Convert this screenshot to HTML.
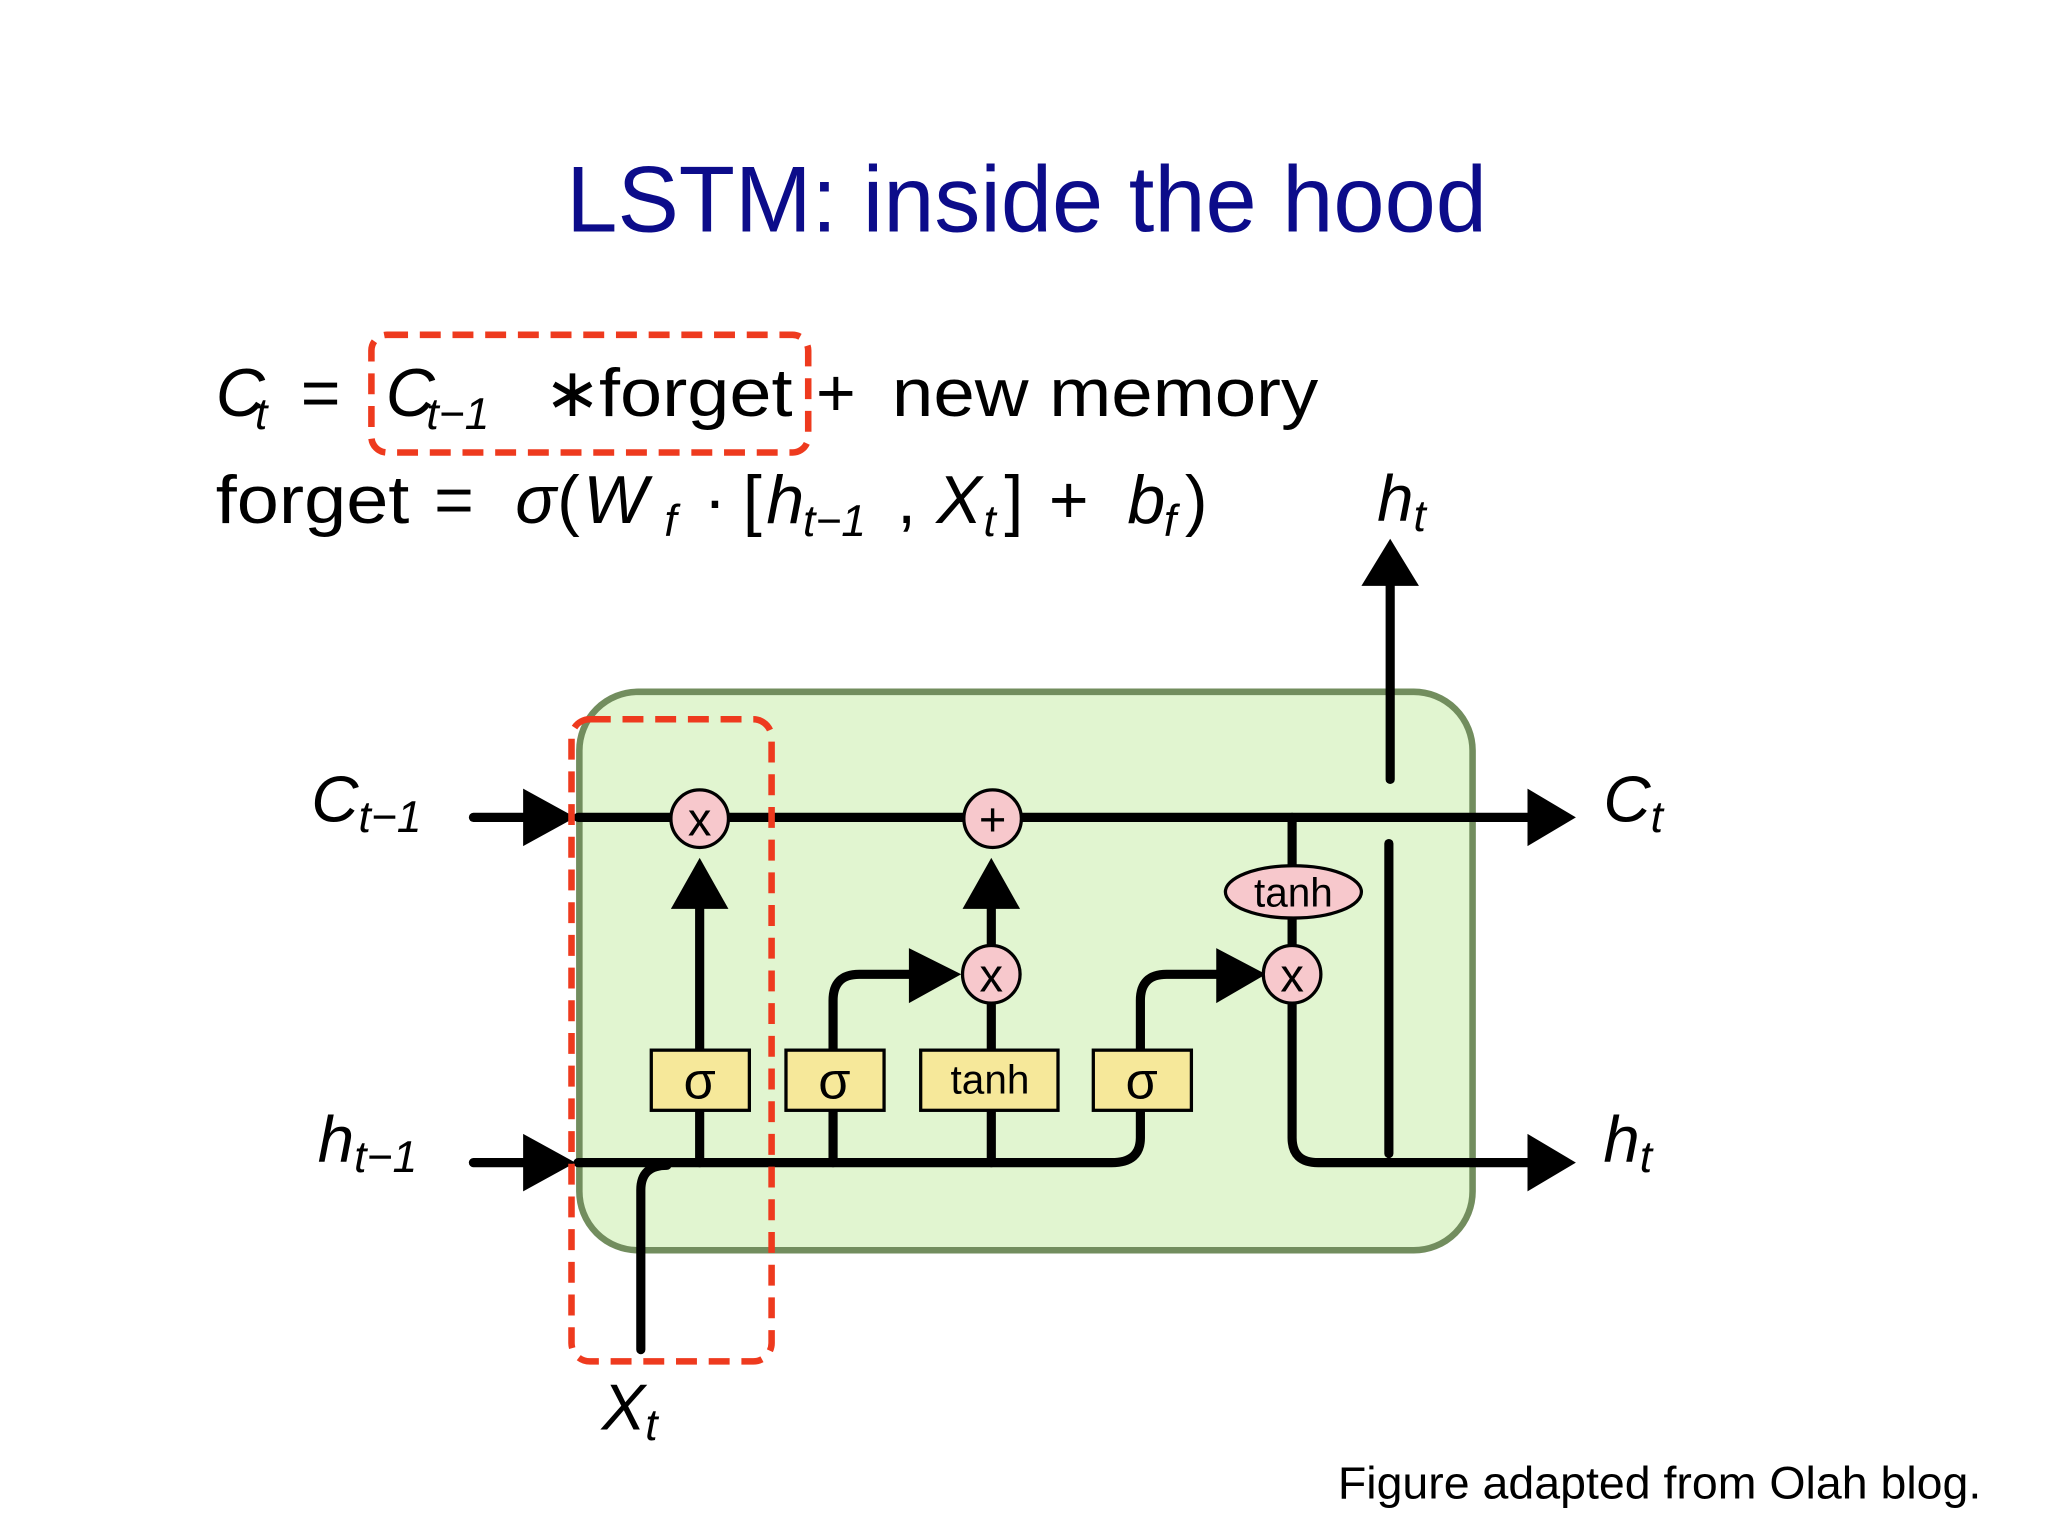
<!DOCTYPE html>
<html><head><meta charset="utf-8"><style>
html,body{margin:0;padding:0;background:#fff;}
svg{display:block;}
text{font-family:"Liberation Sans",sans-serif;}
</style></head><body>
<svg width="2048" height="1536" viewBox="0 0 1566 1174.5" xmlns="http://www.w3.org/2000/svg">
<rect width="1566" height="1175" fill="#fff"/>
<text x="433" y="177" font-size="72" fill="#0c0c8a" textLength="704" lengthAdjust="spacingAndGlyphs">LSTM: inside the hood</text>

<!-- equations -->
<g font-size="52" fill="#000">
<text x="165" y="318" font-style="italic">C</text><text x="195" y="328" font-style="italic" font-size="34">t</text>
<text x="230" y="318">=</text>
<text x="295" y="318" font-style="italic">C</text><text x="326" y="328" font-style="italic" font-size="34">t−1</text>
<text x="416" y="318">∗</text>
<text x="458" y="318" textLength="148" lengthAdjust="spacingAndGlyphs">forget</text>
<text x="624" y="318">+</text>
<text x="682" y="318" textLength="326" lengthAdjust="spacingAndGlyphs">new memory</text>

<text x="165" y="400" textLength="148" lengthAdjust="spacingAndGlyphs">forget</text>
<text x="332" y="400">=</text>
<text x="394" y="400" font-style="italic">σ</text>
<text x="426" y="400">(</text>
<text x="446" y="400" font-style="italic">W</text><text x="508" y="410" font-style="italic" font-size="34">f</text>
<text x="538" y="400">·</text>
<text x="568" y="400">[</text>
<text x="586" y="400" font-style="italic">h</text><text x="614" y="410" font-style="italic" font-size="34">t−1</text>
<text x="686" y="400">,</text>
<text x="716" y="400" font-style="italic">X</text><text x="752" y="410" font-style="italic" font-size="34">t</text>
<text x="768" y="400">]</text>
<text x="802" y="400">+</text>
<text x="862" y="400" font-style="italic">b</text><text x="890" y="410" font-style="italic" font-size="34">f</text>
<text x="906" y="400">)</text>
</g>
<rect x="284" y="256" width="334" height="90" rx="12" fill="none" stroke="#ee3a1e" stroke-width="5" stroke-dasharray="16,9"/>

<!-- green cell -->
<rect x="443" y="529" width="683" height="427" rx="45" fill="#e1f5d0" stroke="#728d5e" stroke-width="5"/>

<g stroke="#000" stroke-width="7" fill="none" stroke-linecap="round">
<line x1="442" y1="625" x2="1175" y2="625"/>
<line x1="362" y1="625" x2="402" y2="625"/>
<path d="M442 889 L850 889 Q872 889 872 870 L872 826"/>
<line x1="362" y1="889" x2="402" y2="889"/>
<path d="M490 1032 L490 910 Q490 891 510 891"/>
<line x1="535" y1="889" x2="535" y2="690"/>
<line x1="637" y1="889" x2="637" y2="826"/>
<path d="M637 826 L637 765 Q637 745 657 745 L700 745"/>
<line x1="758" y1="889" x2="758" y2="768"/>
<line x1="758" y1="722" x2="758" y2="690"/>
<path d="M872 826 L872 765 Q872 745 892 745 L935 745"/>
<line x1="988" y1="625" x2="988" y2="662"/>
<line x1="988" y1="702" x2="988" y2="724"/>
<path d="M988 768 L988 870 Q988 889 1008 889 L1175 889"/>
<line x1="1062" y1="645" x2="1062" y2="882"/>
<line x1="1063" y1="596" x2="1063" y2="445"/>
</g>
<g fill="#000">
<polygon points="400,603 440,625 400,647"/>
<polygon points="400,867 440,889 400,911"/>
<polygon points="1168,603 1205,625 1168,647"/>
<polygon points="1168,867 1205,889 1168,911"/>
<polygon points="513,695 535,656 557,695"/>
<polygon points="736,695 758,656 780,695"/>
<polygon points="695,725 735,745 695,767"/>
<polygon points="930,725 968,745 930,767"/>
<polygon points="1041,448 1063,412 1085,448"/>
</g>

<g stroke="#000" stroke-width="2.5" fill="#f7c8cc">
<circle cx="535" cy="626" r="22"/>
<circle cx="759" cy="626" r="22"/>
<circle cx="758" cy="745" r="22"/>
<circle cx="988" cy="745" r="22"/>
<ellipse cx="989" cy="682" rx="52" ry="20"/>
</g>
<g font-size="36" text-anchor="middle" fill="#000">
<text x="535" y="639">x</text>
<text x="759" y="639">+</text>
<text x="758" y="758">x</text>
<text x="988" y="758">x</text>
<text x="989" y="693" font-size="31">tanh</text>
</g>

<g stroke="#000" stroke-width="2.5" fill="#f6e89a">
<rect x="498" y="803" width="75" height="46"/>
<rect x="601" y="803" width="75" height="46"/>
<rect x="704" y="803" width="105" height="46"/>
<rect x="836" y="803" width="75" height="46"/>
</g>
<g font-size="40" text-anchor="middle" fill="#000">
<text x="535" y="840">σ</text>
<text x="638" y="840">σ</text>
<text x="757" y="836" font-size="31">tanh</text>
<text x="873" y="840">σ</text>
</g>

<rect x="437" y="550" width="153" height="491" rx="14" fill="none" stroke="#ee3a1e" stroke-width="5" stroke-dasharray="16,9"/>

<g font-size="50" font-style="italic" fill="#000">
<text x="238" y="628">C<tspan font-size="34" dy="8">t−1</tspan></text>
<text x="243" y="888">h<tspan font-size="34" dy="8">t−1</tspan></text>
<text x="1226" y="628">C<tspan font-size="34" dy="8">t</tspan></text>
<text x="1226" y="888">h<tspan font-size="34" dy="8">t</tspan></text>
<text x="1053" y="398">h<tspan font-size="34" dy="8">t</tspan></text>
<text x="460" y="1093">X<tspan font-size="34" dy="8">t</tspan></text>
</g>
<text x="1023" y="1146" font-size="35" fill="#000" textLength="492" lengthAdjust="spacingAndGlyphs">Figure adapted from Olah blog.</text>
</svg>
</body></html>
